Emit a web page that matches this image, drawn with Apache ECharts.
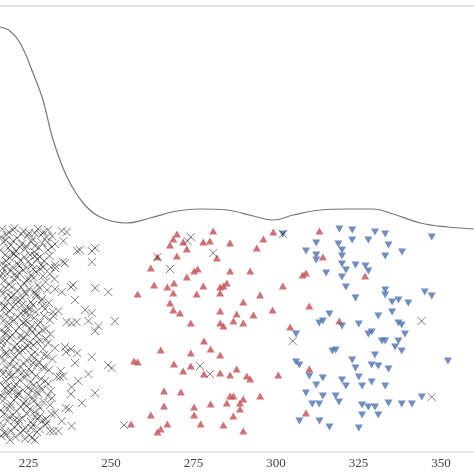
<!DOCTYPE html>
<html>
<head>
<meta charset="utf-8">
<script src="https://cdn.jsdelivr.net/npm/echarts@6/dist/echarts.min.js"></script>
<style>html,body{margin:0;padding:0;background:#fff}#c{width:474px;height:474px}</style>
</head>
<body>
<div id="c"></div>
<script>
// x-axis tick labels
const xTicks = [225, 250, 275, 300, 325, 350];

// density curve (x value, height on jitter axis scale)
const densityX = [216.4,219.4,222.5,226.4,229.4,232.5,236.7,241.6,246.7,254.9,261.9,270.0,277.0,285.2,293.1,299.1,305.2,313.4,321.6,329.4,335.5,343.7,351.9,360.0];
const densityY = [425,421,409,379,352,312,275,249,235,229,234,241,243,242,236,232,237,242,243,243,238,229,225,223];

// red up-triangles: [value, jitter]
const redPoints = [
[270.0,218],[268.9,213],[267.9,207],[271.9,210],[273.0,203],[270.0,196],[264.1,195],[281.0,221],[278.0,210],[280.0,211],
[286.1,209],[282.1,194],[294.2,204],[296.2,213],[299.2,220],[262.1,184],[273.0,175],[275.2,181],[276.3,183],[286.1,181],
[292.2,181],[263.1,167],[267.1,165],[269.1,169],[278.0,166],[283.1,165],[284.1,166],[285.1,169],[283.1,159],[268.9,159],
[276.0,158],[258.1,158],[295.2,157],[267.9,149],[290.1,150],[268.9,142],[270.9,139],[283.1,141],[288.1,138],[293.2,137],
[299.0,142],[274.2,129],[283.1,129],[284.1,126],[287.1,131],[290.1,129],
[278.2,111],[265.1,102],[274.2,99],[280.2,103],[283.1,97],[257.0,91],[258.1,90],[269.1,88],[274.2,86],[271.9,81],
[278.2,78],[283.1,79],[286.1,77],[288.1,83],[291.2,76],[292.2,73],[300.7,77],[266.1,61],[271.2,60],[286.1,56],
[287.1,56],[290.1,53],[289.1,49],[295.2,56],[280.2,48],[285.1,49],[266.1,46],[275.2,45],[289.1,43],[262.1,37],
[275.2,37],[287.1,36],[256.1,28],[267.1,28],[277.2,28],[284.1,27],[265.1,23],[264.1,20],[290.1,21],
[313.2,221],[314.2,195],[308.1,177],[309.1,179],[302.1,166],[327.0,176],[310.1,146],[319.2,131],[304.3,125],[310.1,83],[309.1,39]
];

// blue down-triangles: [value, jitter]
const bluePoints = [
[319.2,223],[323.1,222],[330.0,220],[333.1,218],[347.2,215],[312.2,209],[318.9,208],[323.1,212],[328.0,212],[334.1,207],
[309.1,201],[320.0,202],[338.2,200],[312.2,197],[312.2,192],[320.0,196],[333.1,196],[320.0,188],[324.1,187],[327.1,186],
[321.2,182],[328.0,181],[315.2,179],[320.0,175],[321.2,165],[333.1,162],[333.1,157],[345.1,160],[347.2,156],[324.1,154],
[337.1,152],[335.2,150],[340.1,149],[335.2,140],[316.2,138],[331.0,136],[314.2,131],[313.1,129],[320.0,126],[325.1,128],
[337.1,129],[338.1,127],[306.1,118],[328.0,118],[329.0,120],[339.1,118],
[332.1,111],[333.1,111],[337.1,111],[336.1,105],[338.1,101],[317.1,101],[318.1,102],[330.0,97],[323.1,92],[352.1,91],
[306.1,90],[307.1,87],[329.0,87],[331.0,86],[334.1,83],[324.1,84],[310.1,76],[314.2,74],[320.0,72],[325.1,75],
[329.0,70],[312.2,67],[321.2,66],[326.1,66],[333.1,66],[309.1,59],[314.2,56],[318.1,56],[319.1,50],[344.2,55],
[311.0,48],[313.1,48],[326.1,47],[328.0,45],[330.0,45],[334.1,49],[338.1,48],[341.2,48],[326.1,37],[331.0,37],
[307.1,31],[313.2,31],[316.2,25],[325.1,24],[302.1,218]
];

// black crosses: [value, jitter]
const crossPoints = [
[217.1,223],[219.0,220],[220.8,224],[223.5,221],[225.2,219],[227.9,223],[229.6,220],
[216.8,215],[218.4,217],[221.6,214],[222.9,218],[224.7,216],[226.3,213],[228.8,217],[230.5,215],
[217.5,210],[219.7,207],[220.4,211],[223.0,208],[225.9,210],[227.1,206],[229.2,209],
[216.6,202],[218.9,204],[221.2,201],[222.4,205],[224.1,203],[226.8,200],[228.2,204],[230.9,202],
[217.9,197],[219.3,194],[220.7,198],[223.8,195],[225.5,197],[227.6,193],[231.4,196],
[216.9,189],[218.2,191],[221.9,188],[222.6,192],[224.9,190],[226.1,187],[229.8,191],
[217.3,184],[219.6,181],[220.2,185],[223.3,182],[224.4,184],[227.3,180],[228.6,183],[231.8,185],
[216.7,176],[218.6,178],[221.4,175],[222.2,179],[225.7,177],[226.6,174],[229.4,176],
[217.7,171],[219.2,168],[220.9,172],[223.6,169],[224.6,171],[227.8,167],[230.2,170],
[216.5,162],[218.1,164],[221.7,161],[222.8,165],[225.3,163],[226.9,160],[228.4,164],[230.7,162],
[217.2,158],[219.8,155],[220.5,157],[223.2,154],[224.2,158],[227.5,156],[229.1,153],
[216.8,149],[218.7,151],[221.1,148],[222.5,152],[225.8,150],[226.4,147],[228.9,151],[231.2,149],
[217.6,144],[219.4,141],[220.3,145],[223.9,142],[224.8,144],[227.2,140],[230.0,143],
[216.6,136],[218.3,138],[221.8,135],[222.7,139],[225.1,137],[226.7,134],[229.7,136],
[217.4,131],[219.1,128],[220.6,132],[223.4,129],[224.3,131],[227.9,127],[228.5,130],[231.5,132],
[216.9,122],[218.8,124],[221.3,121],[222.1,125],[225.6,123],[226.2,120],[229.3,122],
[217.8,118],[219.5,115],[220.1,117],[223.7,114],[224.5,118],[227.4,116],[230.4,113],
[216.7,109],[218.5,111],[221.5,108],[222.9,112],[225.4,110],[226.5,107],[228.7,111],[231.0,109],
[217.0,104],[219.9,101],[220.8,105],[223.1,102],[224.0,104],[227.0,100],[229.5,103],
[216.5,96],[218.0,98],[221.0,95],[222.3,99],[225.9,97],[226.8,94],[230.6,96],
[217.5,91],[219.3,88],[220.4,92],[223.5,89],[224.7,91],[227.7,87],[228.3,90],
[216.8,82],[218.6,84],[221.7,81],[222.6,85],[225.2,83],[226.0,80],[229.9,84],[231.3,82],
[217.3,78],[219.7,75],[220.2,77],[223.8,74],[224.4,78],[227.2,76],[228.8,73],
[216.6,69],[218.2,71],[221.2,68],[222.4,72],[225.7,70],[226.6,67],[230.1,71],
[217.9,64],[219.0,61],[220.9,65],[223.3,62],[224.9,64],[227.5,60],[229.0,63],
[216.9,56],[218.9,58],[221.6,55],[222.0,59],[225.0,57],[226.3,54],[228.1,58],[230.8,56],
[217.2,51],[219.6,48],[220.6,52],[223.6,49],[224.2,51],[227.8,47],[229.6,50],
[216.7,42],[218.4,44],[221.4,41],[222.8,45],[225.5,43],[226.9,40],[228.6,44],
[217.6,38],[219.2,35],[220.3,37],[223.0,34],[224.6,38],[227.1,36],[230.3,33],
[216.5,29],[218.7,31],[221.9,28],[222.2,32],[225.8,30],[226.4,27],[229.2,31],
[217.1,24],[219.8,21],[220.7,25],[223.4,22],[224.1,24],[227.6,20],[228.4,23],
[216.8,16],[218.3,18],[221.1,15],[222.7,19],[225.3,17],[226.1,14],
[219.4,12],[223.9,13],[227.0,12],
// second, offset layer of the dense cluster
[218.1,212],[224.3,206],[226.9,219],[220.1,199],[228.9,187],[222.2,186],[217.0,179],[225.0,173],[219.9,165],[227.3,158],
[221.3,152],[217.9,146],[229.3,146],[224.0,139],[219.6,133],[226.0,126],[218.1,119],[222.6,116],[228.1,119],[224.9,106],
[218.3,99],[220.7,86],[226.4,89],[223.0,79],[218.9,66],[225.9,62],[221.8,58],[228.4,66],[219.5,45],[224.4,46],
[227.7,33],[221.0,32],[217.7,19],[225.9,24],[230.1,27],[232.0,38],[231.8,61],[232.3,93],[231.7,118],[232.4,140],
[232.9,173],[231.5,178],[230.8,210],[232.2,216],[226.5,183],[221.0,178],[218.9,157],[223.0,147],[216.9,112],[221.9,102],
[219.2,78],[226.6,51],[229.8,97],[227.6,110],[224.2,128],[220.3,222],[227.0,196],[218.4,186],[223.9,160],[216.6,57],
[220.1,62],[230.2,123],[225.6,143],[221.3,196],
[240.6,202],[239.8,201],[245.2,204],[244.2,201],[244.2,190],[235.4,190],[236.1,189],[238.6,167],[237.9,165],[245.2,164],
[249.2,160],[235.1,160],[233.1,163],[239.1,152],[242.2,142],[244.2,139],[243.2,131],[251.2,131],[246.2,126],[245.2,121],
[234.1,141],[232.6,136],[236.6,130],[238.1,129],[239.6,130],[235.1,221],[236.6,220],[231.0,222],[235.6,211],[233.1,208],
[232.1,205],[233.1,187],[233.1,184],[228.5,195],[229.5,185],
[233.1,104],[236.1,105],[237.9,103],[236.4,100],[239.8,99],[244.2,95],[239.1,89],[249.2,87],[250.2,84],[234.8,81],
[235.6,76],[243.2,78],[240.1,71],[238.1,65],[237.9,58],[245.2,59],[232.1,54],[241.2,49],[236.3,44],[237.3,43],
[233.1,39],[235.1,31],[238.1,26],[231.6,21],[232.6,21],[234.1,21],[230.6,29],[228.5,36],[231.6,47],[231.0,68],
[233.6,75],[234.6,75],[229.5,85],
[274.2,215],[273.2,211],[281.0,199],[267.9,183],[264.1,195],[277.0,86],[280.0,78],[254.0,27],[344.1,131],[305.1,111],
[347.2,55],[302.1,218]
];

const X_MIN = 216.4, X_MAX = 360.0;
const chart = echarts.init(document.getElementById('c'), null, {renderer: 'canvas'});
const crossPath = 'path://M0,0L10,10M10,0L0,10';
chart.setOption({
  animation: false,
  backgroundColor: '#ffffff',
  grid: {left: 0, right: 0, top: 6, bottom: 22, containLabel: false},
  xAxis: [{
    type: 'value', min: X_MIN, max: X_MAX, position: 'bottom',
    axisLine: {show: true, lineStyle: {color: '#dcdcdc', width: 1.5}},
    axisTick: {show: false}, splitLine: {show: false},
    axisLabel: {
      show: true, margin: 5, color: '#444', fontFamily: 'Liberation Serif', fontSize: 13,
      customValues: xTicks
    }
  }, {
    type: 'value', min: X_MIN, max: X_MAX, position: 'top',
    axisLine: {show: true, onZero: false, lineStyle: {color: '#e2e2e2', width: 2}},
    axisTick: {show: false}, axisLabel: {show: false}, splitLine: {show: false}
  }],
  yAxis: {type: 'value', min: 0, max: 446, show: false},
  series: [
    {
      type: 'line', data: densityX.map((x, i) => [x, densityY[i]]),
      smooth: 0.4, symbol: 'none', lineStyle: {color: '#777', width: 1.2}, z: 1
    },
    {
      type: 'scatter', data: redPoints, symbol: 'triangle', symbolSize: [8, 7],
      itemStyle: {color: '#c44e52'}, z: 2
    },
    {
      type: 'scatter', data: bluePoints, symbol: 'triangle', symbolRotate: 180, symbolSize: [8, 7],
      itemStyle: {color: '#4c72b0'}, z: 2
    },
    {
      type: 'scatter', data: crossPoints, symbol: crossPath, symbolSize: 8,
      itemStyle: {color: 'rgba(0,0,0,0)', borderColor: 'rgba(20,20,20,0.75)', borderWidth: 0.9}, z: 3
    }
  ]
});
</script>
</body>
</html>
